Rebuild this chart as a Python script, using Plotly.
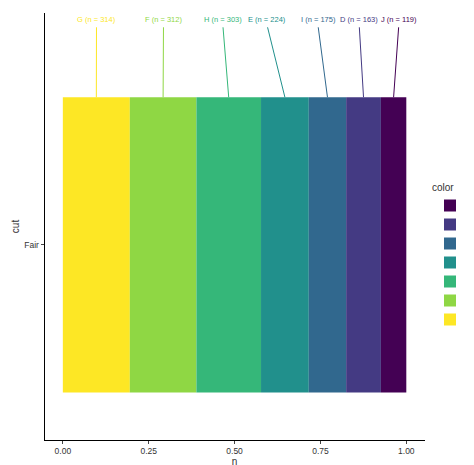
import plotly.graph_objects as go

colors_cat = ["G", "F", "H", "E", "I", "D", "J"]
counts = [314, 312, 303, 224, 175, 163, 119]
fills = ["#FDE725", "#8FD744", "#35B779", "#21908C", "#31688E", "#443A83", "#440154"]
label_x = [0.098, 0.293, 0.466, 0.595, 0.743, 0.863, 0.978]

total = sum(counts)
fracs = [c / total for c in counts]

fig = go.Figure()
base = 0
for cat, f, col, lx, c in zip(colors_cat, fracs, fills, label_x, counts):
    fig.add_trace(go.Bar(x=[f], y=[1], base=[base], orientation="h", width=0.9,
                         marker=dict(color=col, line=dict(width=0)), name=cat))
    mid = base + f / 2
    fig.add_annotation(x=mid, y=1.45, ax=lx, ay=1.668, xref="x", yref="y",
                       axref="x", ayref="y", showarrow=True, arrowhead=0,
                       arrowwidth=1, arrowcolor=col, text="")
    fig.add_annotation(x=lx, y=1.668, xref="x", yref="y", showarrow=False,
                       text=f"{cat} (n = {c})", font=dict(size=7.5, color=col),
                       yanchor="bottom")
    base += f

W, H = 474, 465
fig.update_layout(
    width=W, height=H, plot_bgcolor="white", paper_bgcolor="white",
    margin=dict(l=0, r=0, t=0, b=0), barmode="overlay",
    font=dict(family="Liberation Sans", color="#333"),
    legend=dict(title=dict(text="color", font=dict(size=10)), traceorder="reversed",
                x=438 / W, y=1 - 170 / H, yanchor="top", xanchor="left",
                font=dict(size=8.5), itemwidth=30, tracegroupgap=0),
    xaxis=dict(domain=[38 / W, 432 / W], range=[-0.053, 1.053],
               tickvals=[0, 0.25, 0.5, 0.75, 1], automargin=False,
               ticktext=["0.00", "0.25", "0.50", "0.75", "1.00"], showline=True,
               linecolor="black", ticks="outside", ticklen=3, showgrid=False,
               zeroline=False, title=dict(text="n", font=dict(size=10), standoff=2),
               tickfont=dict(size=8.5)),
    yaxis=dict(domain=[1 - 432 / H, 1 - 5 / H], range=[0.405, 1.707], tickvals=[1],
               ticktext=["Fair"], showline=True, automargin=False,
               linecolor="black", ticks="outside", ticklen=3, showgrid=False,
               zeroline=False, title=dict(text="cut", font=dict(size=10), standoff=2),
               tickfont=dict(size=8.5)),
)
fig.write_html("out.html")
